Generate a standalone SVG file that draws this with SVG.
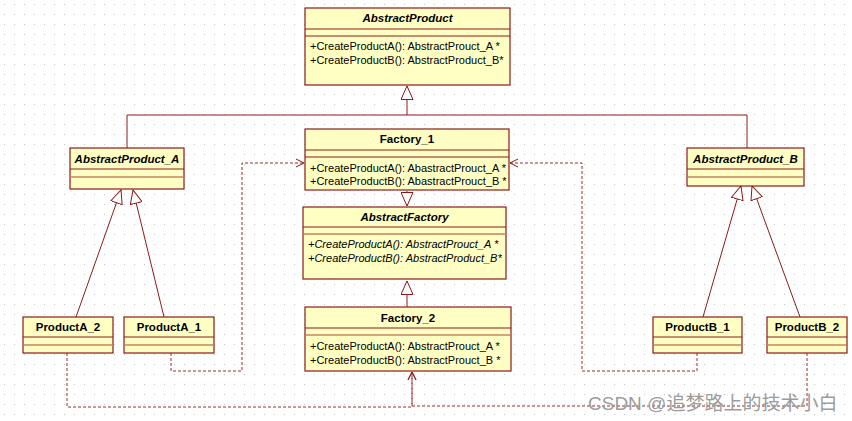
<svg xmlns="http://www.w3.org/2000/svg" width="852" height="421" viewBox="0 0 852 421">
<defs>
<pattern id="grid" x="0" y="0" width="10" height="10" patternUnits="userSpaceOnUse">
<rect x="4" y="4" width="1" height="1" fill="#c4c4c4"/>
</pattern>
<marker id="tri" viewBox="0 0 15 13" refX="14" refY="6.5" markerWidth="15" markerHeight="13" markerUnits="userSpaceOnUse" orient="auto">
<path d="M0.5,0.5 L14,6.5 L0.5,12.5 Z" fill="#ffffff" stroke="#8b1a1a" stroke-width="1"/>
</marker>
<marker id="open" viewBox="0 0 10 10" refX="9" refY="5" markerWidth="10" markerHeight="10" markerUnits="userSpaceOnUse" orient="auto">
<path d="M1,1 L9,5 L1,9" fill="none" stroke="#8b1a1a" stroke-width="1"/>
</marker>
</defs>
<style>
.box{fill:#ffffc4;stroke:#8b1a1a;stroke-width:1.2}
.sep{stroke:#8b1a1a;stroke-width:1}
.sep2{stroke:#c4865e;stroke-width:1.5}
.t{font-family:"Liberation Sans",Arial,sans-serif;font-size:11.5px;font-weight:bold;fill:#000;text-anchor:middle}
.ti{font-style:italic}
.m{font-family:"Liberation Sans",Arial,sans-serif;font-size:11px;fill:#000}
.mi{font-style:italic}
.gen{fill:none;stroke:#8b1a1a;stroke-width:1}
.dep{fill:none;stroke:#9b2a2a;stroke-width:1;stroke-dasharray:3,2}
.wm{font-family:"Liberation Sans","Noto Sans CJK SC",sans-serif;font-size:19px;fill:#9c9c9c}
</style>
<rect width="852" height="421" fill="#ffffff"/>
<rect width="852" height="421" fill="url(#grid)"/>

<g id="connectors">
<path class="gen" d="M127,148 V115 H747 V148"/>
<path class="gen" d="M407,115 V86" marker-end="url(#tri)"/>
<path class="gen" d="M76,317 L121,190" marker-end="url(#tri)"/>
<path class="gen" d="M164,317 L133,190" marker-end="url(#tri)"/>
<path class="gen" d="M703,317 L741,186" marker-end="url(#tri)"/>
<path class="gen" d="M800,317 L752,186" marker-end="url(#tri)"/>
<path class="gen" d="M407,191 V206" marker-end="url(#tri)"/>
<path class="gen" d="M407,307 V281" marker-end="url(#tri)"/>
<path class="dep" d="M171,353 V371 H242 V163 H304" marker-end="url(#open)"/>
<path class="dep" d="M697,353 V371 H582 V163 H510" marker-end="url(#open)"/>
<path class="dep" d="M67,353 V407 H412 V372" marker-end="url(#open)"/>
<path class="dep" d="M807,353 V406 H412 V372" marker-end="url(#open)"/>
</g>

<g id="AbstractProduct">
<rect class="box" x="305" y="8" width="205" height="77"/>
<line class="sep" x1="305" y1="29" x2="510" y2="29"/>
<line class="sep" x1="305" y1="36" x2="510" y2="36"/>
<text class="t ti" x="407.5" y="22">AbstractProduct</text>
<text class="m" x="310" y="50">+CreateProductA(): AbstractProuct_A *</text>
<text class="m" x="310" y="64">+CreateProductB(): AbstractProduct_B*</text>
</g>

<g id="Factory_1">
<rect class="box" x="305" y="129" width="204" height="61"/>
<line class="sep" x1="305" y1="150" x2="509" y2="150"/>
<line class="sep" x1="305" y1="157" x2="509" y2="157"/>
<text class="t" x="407" y="143">Factory_1</text>
<text class="m" x="310" y="172">+CreateProductA(): AbastractProuct_A *</text>
<text class="m" x="310" y="185">+CreateProductB(): AbastractProuct_B *</text>
</g>

<g id="AbstractFactory">
<rect class="box" x="303" y="207" width="203" height="72"/>
<line class="sep" x1="303" y1="227" x2="506" y2="227"/>
<line class="sep2" x1="303.6" y1="234" x2="505.4" y2="234"/>
<text class="t ti" x="404.5" y="221">AbstractFactory</text>
<text class="m mi" x="308" y="248">+CreateProductA(): AbstractProuct_A *</text>
<text class="m mi" x="308" y="262">+CreateProductB(): AbstractProduct_B*</text>
</g>

<g id="Factory_2">
<rect class="box" x="305" y="307" width="206" height="64"/>
<line class="sep" x1="305" y1="328" x2="511" y2="328"/>
<line class="sep2" x1="305.6" y1="335" x2="510.4" y2="335"/>
<text class="t" x="408" y="322">Factory_2</text>
<text class="m" x="310" y="350">+CreateProductA(): AbstractProuct_A *</text>
<text class="m" x="310" y="364">+CreateProductB(): AbstractProuct_B *</text>
</g>

<g id="AbstractProduct_A">
<rect class="box" x="70" y="148" width="114" height="41"/>
<line class="sep" x1="70" y1="169" x2="184" y2="169"/>
<line class="sep2" x1="70.6" y1="177" x2="183.4" y2="177"/>
<text class="t ti" x="127" y="163">AbstractProduct_A</text>
</g>

<g id="AbstractProduct_B">
<rect class="box" x="687" y="148" width="117" height="38"/>
<line class="sep" x1="687" y1="169" x2="804" y2="169"/>
<line class="sep2" x1="687.6" y1="177" x2="803.4" y2="177"/>
<text class="t ti" x="745.5" y="163">AbstractProduct_B</text>
</g>

<g id="ProductA_2">
<rect class="box" x="23" y="317" width="90" height="36"/>
<line class="sep" x1="23" y1="337" x2="113" y2="337"/>
<line class="sep2" x1="23.6" y1="345" x2="112.4" y2="345"/>
<text class="t" x="68" y="331">ProductA_2</text>
</g>

<g id="ProductA_1">
<rect class="box" x="124" y="317" width="90" height="36"/>
<line class="sep" x1="124" y1="337" x2="214" y2="337"/>
<line class="sep2" x1="124.6" y1="345" x2="213.4" y2="345"/>
<text class="t" x="169" y="331">ProductA_1</text>
</g>

<g id="ProductB_1">
<rect class="box" x="653" y="317" width="89" height="36"/>
<line class="sep" x1="653" y1="337" x2="742" y2="337"/>
<line class="sep2" x1="653.6" y1="345" x2="741.4" y2="345"/>
<text class="t" x="697.5" y="331">ProductB_1</text>
</g>

<g id="ProductB_2">
<rect class="box" x="767" y="317" width="80" height="36"/>
<line class="sep" x1="767" y1="337" x2="847" y2="337"/>
<line class="sep2" x1="767.6" y1="345" x2="846.4" y2="345"/>
<text class="t" x="807" y="331">ProductB_2</text>
</g>

<text class="wm" x="588" y="410">CSDN @追梦路上的技术小白</text>
</svg>
